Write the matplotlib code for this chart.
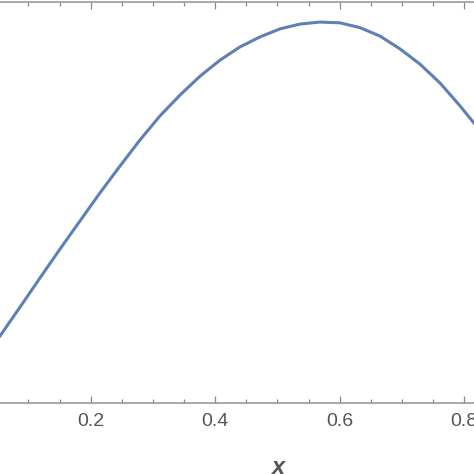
import numpy as np
import matplotlib
matplotlib.use("Agg")
import matplotlib.pyplot as plt
from matplotlib.ticker import MultipleLocator
import matplotlib.transforms as mtransforms

# curve values (y in arbitrary units, 0 = bottom of frame)
x_vals = [0.0543, 0.0864, 0.1186, 0.1507, 0.1828, 0.2149, 0.2471, 0.2792,
          0.3113, 0.3435, 0.3756, 0.4077, 0.4398, 0.4720, 0.5041, 0.5362,
          0.5683, 0.6005, 0.6326, 0.6647, 0.6969, 0.7290, 0.7611, 0.7932,
          0.8157]
y_vals = [0.167, 0.239, 0.312, 0.384, 0.454, 0.524, 0.591, 0.656,
          0.716, 0.768, 0.815, 0.855, 0.888, 0.913, 0.933, 0.945,
          0.950, 0.948, 0.936, 0.915, 0.883, 0.845, 0.798, 0.741,
          0.698]
x_ticks = [0.2, 0.4, 0.6, 0.8]
x_label = "x"

plt.rcParams["font.family"] = ["Liberation Sans", "DejaVu Sans"]

fig = plt.figure(figsize=(4.74, 4.74), dpi=100)
ax = fig.add_axes([0, 71 / 474, 1, 401 / 474])

ax.plot(x_vals, y_vals, color="#5E81B5", lw=2.2, solid_joinstyle="round")

ax.set_xlim(0.0543, 0.8157)
ax.set_ylim(0, 1)

ax.spines["left"].set_visible(False)
ax.spines["right"].set_visible(False)
for s in ["top", "bottom"]:
    ax.spines[s].set_color("#999999")
    ax.spines[s].set_linewidth(1.2)

ax.set_xticks(x_ticks)
ax.set_xticklabels([str(t) for t in x_ticks])
ax.xaxis.set_minor_locator(MultipleLocator(0.05))
ax.tick_params(axis="x", which="both", direction="in", top=True, bottom=True,
               color="#888888", width=0.9, labelsize=14, labelcolor="#555555",
               pad=7)
ax.tick_params(axis="x", which="major", length=5)
ax.tick_params(axis="x", which="minor", length=3)
ax.set_yticks([])

trans = mtransforms.blended_transform_factory(ax.transData, ax.transAxes)
ax.text(0.5, -64 / 401, x_label, transform=trans, ha="center", va="center",
        fontsize=17, fontweight="bold", fontstyle="italic", color="#555555")

fig.savefig("out.png", dpi=100)
